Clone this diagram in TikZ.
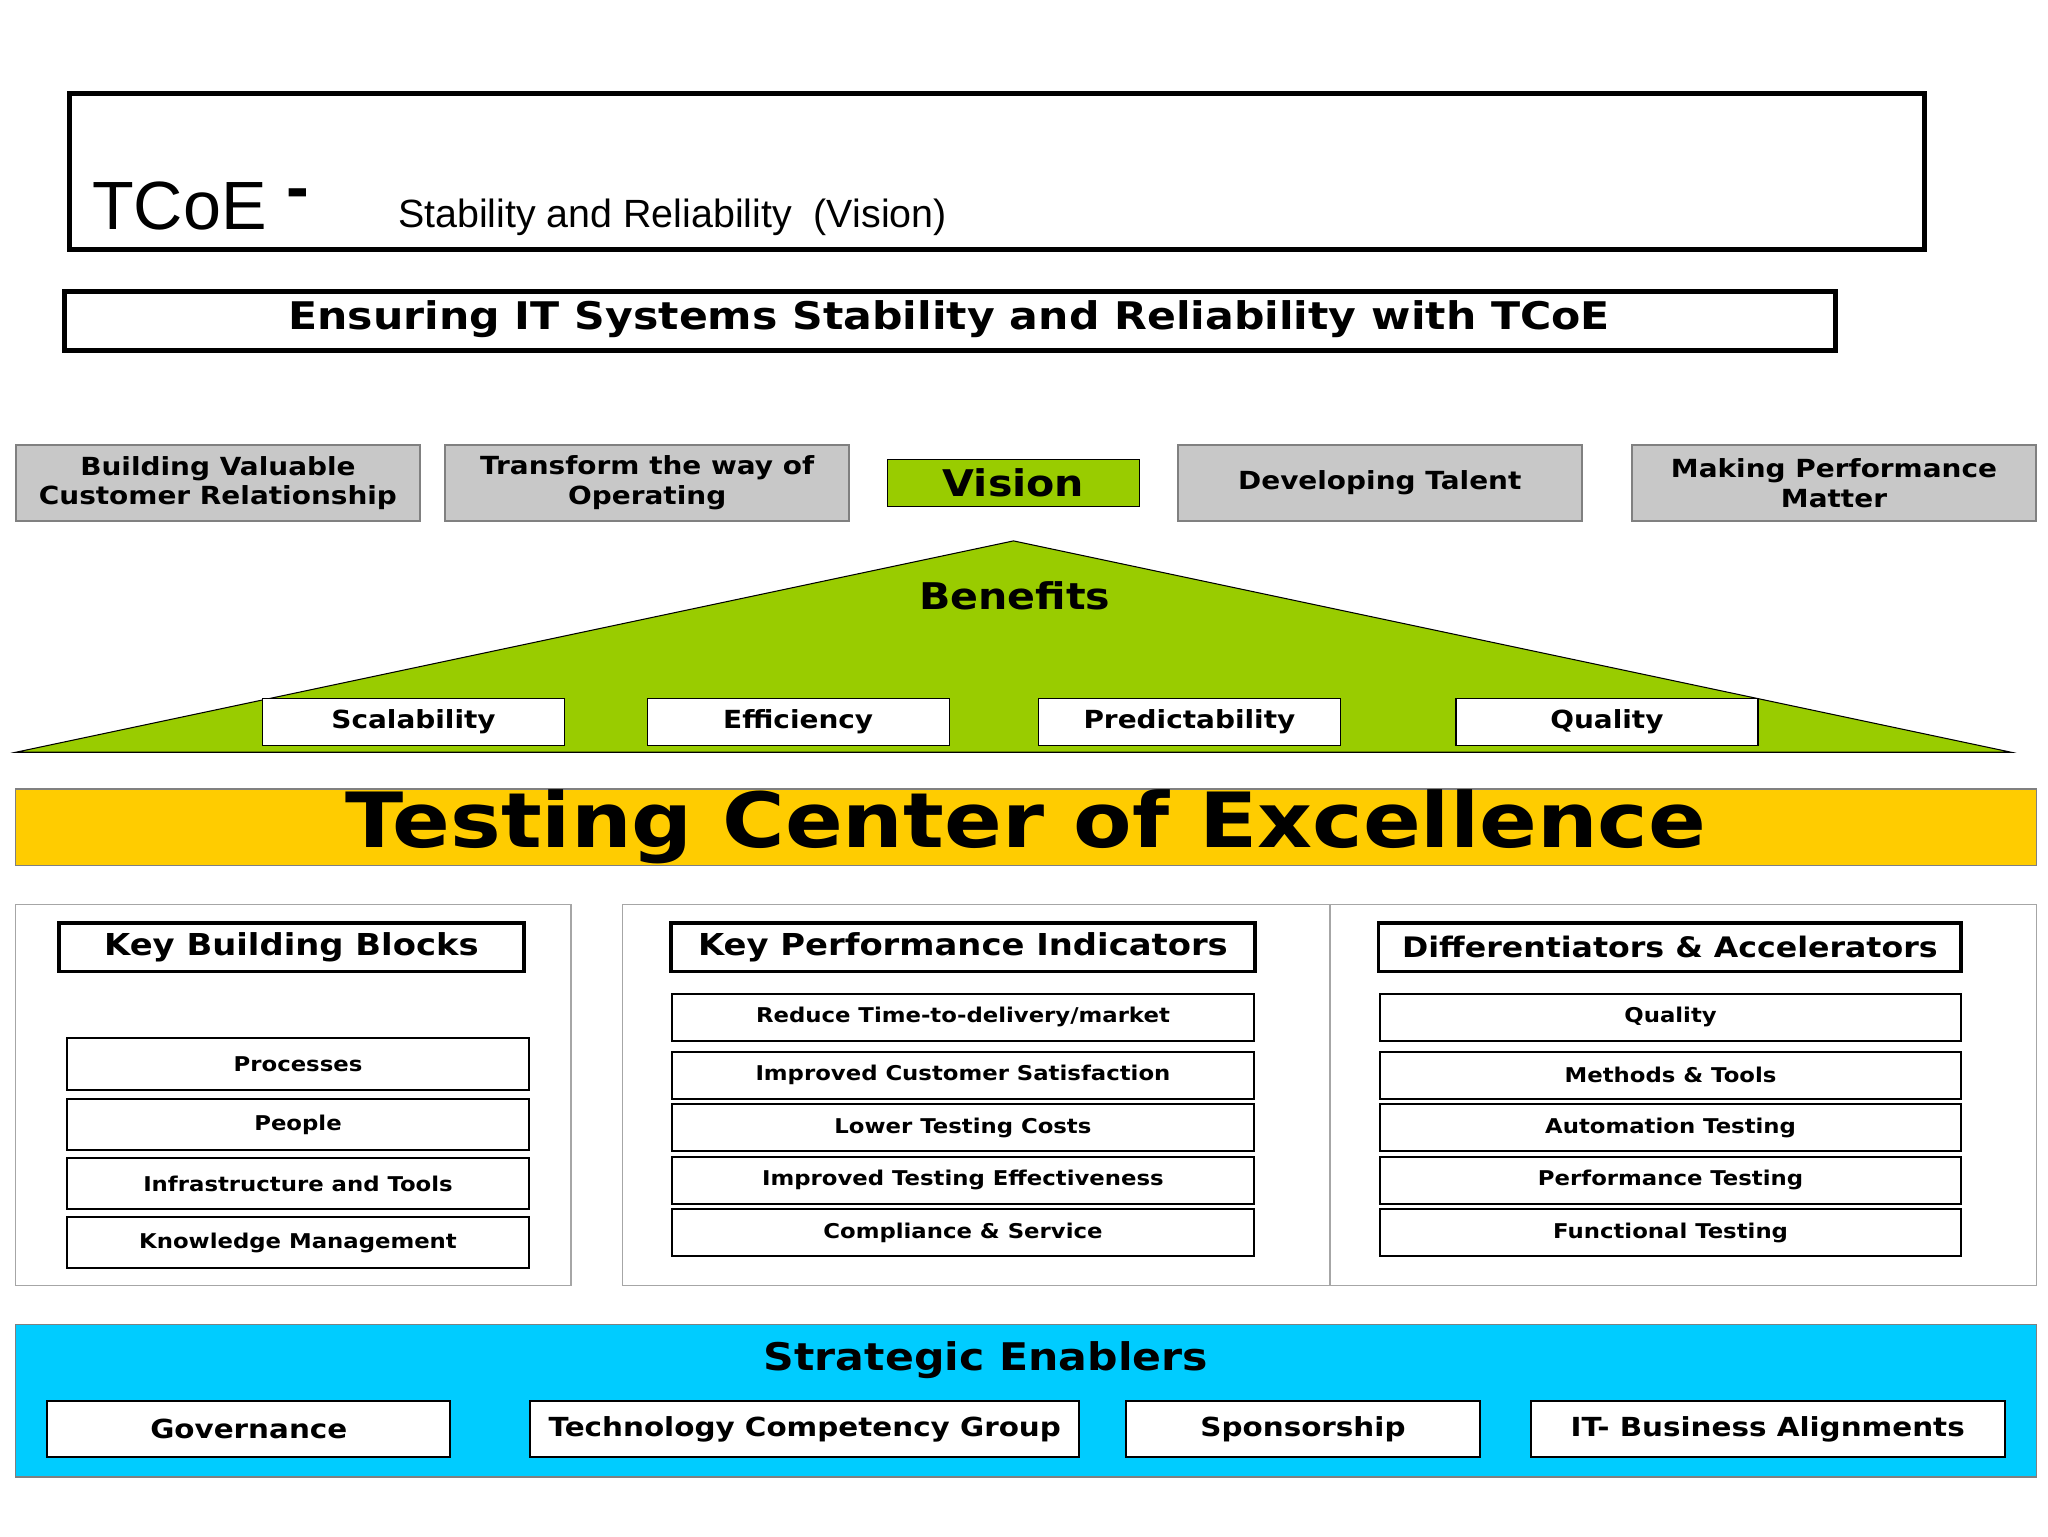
\documentclass[tikz,border=0pt]{standalone}
\usepackage{fontspec}
\setmainfont[FakeStretch=1.12]{DejaVu Sans}
\newfontfamily\lib{Liberation Sans}
\definecolor{grn}{HTML}{99CC00}
\definecolor{ylw}{HTML}{FFCC00}
\definecolor{blu}{HTML}{00CCFF}
\definecolor{gry}{HTML}{C8C8C8}
\begin{document}
\begin{tikzpicture}[x=1pt,y=-1pt,
 txt/.style={font=\bfseries\fontsize{#1}{1.2\dimexpr#1pt\relax}\selectfont,inner sep=0,align=center},
 wb/.style={draw=black,fill=white,line width=1pt},
 gb/.style={draw=gray,fill=gry,line width=1.5pt},
 hb/.style={draw=black,fill=white,line width=3pt},
 pan/.style={draw=gray!70,line width=1pt}]
\useasboundingbox (0,0) rectangle (1560,1170);
% title
\draw[line width=3.5pt] (53,71) rectangle (1466,190);
\node[anchor=base west,inner sep=0,font=\lib\fontsize{52}{52}\selectfont] (tc) at (70,175) {TCoE};
\node[anchor=base west,inner sep=0,font=\lib\bfseries\fontsize{52}{52}\selectfont] (dash) at (218,160) {-};
\node[anchor=base west,inner sep=0,font=\lib\fontsize{30}{30}\selectfont] (st) at (303,173) {Stability and Reliability\ \ (Vision)};
\draw[line width=4pt] (49,222) rectangle (1398,267);
\node[txt=29] (ens) at (723,243) {Ensuring IT Systems Stability and Reliability with TCoE};
% top row
\draw[gb] (12,339) rectangle (320,397) node[midway,txt=19] (t1) {Building Valuable\\Customer Relationship};
\draw[gb] (339,339) rectangle (647,397) node[midway,txt=19] (t2) {Transform the way of\\Operating};
\draw[gb] (897,339) rectangle (1205,397) node[midway,txt=19] (t3) {Developing Talent};
\draw[gb] (1243,339) rectangle (1551,397) node[midway,txt=19] (t4) {Making Performance\\Matter};
\draw[draw=black,fill=grn,line width=1pt] (676,350) rectangle (868,386) node[midway,txt=28] (vis) {Vision};
% triangle
\draw[fill=grn,line width=0.8pt] (12,573) -- (772,412) -- (1532,573) -- cycle;
\node[txt=28] (ben) at (773,454) {Benefits};
\foreach \a/\t/\n in {200/Scalability/b1,493/Efficiency/b2,791/Predictability/b3,1109/Quality/b4}
  \draw[wb] (\a,532) rectangle (\a+230,568) node[midway,txt=19] (\n) {\t};
% yellow
\draw[fill=ylw,draw=gray,line width=1pt] (12,601) rectangle (1551,659) node[midway,txt=58] (tcoe) {Testing Center of Excellence};
% panels
\draw[pan] (12,689) rectangle (435,979);
\draw[pan] (474,689) rectangle (1551,979);
\draw[pan] (1013,689) -- (1013,979);
\draw[hb] (45,703) rectangle (399,740) node[midway,txt=23] (h1) {Key Building Blocks};
\draw[hb] (511,703) rectangle (956,740) node[midway,txt=23] (h2) {Key Performance Indicators};
\draw[hb] (1050,703) rectangle (1494,740) node[midway,txt=21.5] (h3) {Differentiators \& Accelerators};
\foreach \y/\t/\n in {791/Processes/l1,837/People/l2,882/Infrastructure and Tools/l3,927/Knowledge Management/l4}
  \draw[wb,line width=1.5pt] (51,\y) rectangle (403,\y+39) node[midway,txt=15.5] (\n) {\t};
\foreach \y/\t/\n in {757/Reduce Time-to-delivery\slash market/m1,801/Improved Customer Satisfaction/m2,841/Lower Testing Costs/m3,881/Improved Testing Effectiveness/m4,921/Compliance \& Service/m5}
  \draw[wb,line width=1.5pt] (512,\y) rectangle (955,\y+36) node[midway,txt=15.5] (\n) {\t};
\foreach \y/\t/\n in {757/Quality/r1,801/Methods \& Tools/r2,841/Automation Testing/r3,881/Performance Testing/r4,921/Functional Testing/r5}
  \draw[wb,line width=1.5pt] (1051,\y) rectangle (1494,\y+36) node[midway,txt=15.5] (\n) {\t};
% blue
\draw[fill=blu,draw=gray,line width=1pt] (12,1009) rectangle (1551,1125);
\node[txt=29] (se) at (751,1036) {Strategic Enablers};
\foreach \a/\b/\t/\n in {36/343/Governance/e1,404/822/Technology Competency Group/e2,858/1127/Sponsorship/e3,1166/1527/IT- Business Alignments/e4}
  \draw[wb,line width=1.5pt] (\a,1067) rectangle (\b,1110) node[midway,txt=20] (\n) {\t};
\end{tikzpicture}
\end{document}
